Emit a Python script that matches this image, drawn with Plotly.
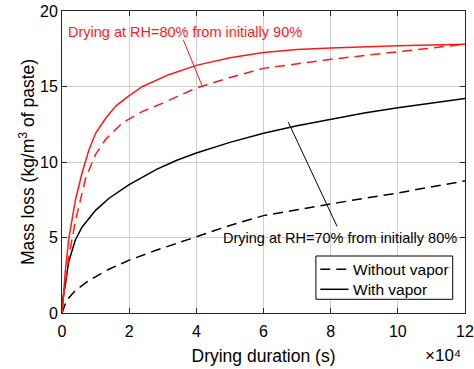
import plotly.graph_objects as go

# ---- data (x in units of 1e4 s) ----
red_solid_x = [0, 0.05, 0.1, 0.2, 0.4, 0.6, 0.8, 1.0, 1.3, 1.6, 2.0, 2.4, 3.2, 4, 5, 6, 7, 8, 9, 10, 11, 12]
red_solid_y = [0, 1.6, 2.8, 4.9, 7.5, 9.3, 10.8, 11.9, 12.9, 13.7, 14.4, 15.0, 15.8, 16.4, 16.9, 17.25, 17.45, 17.55, 17.65, 17.7, 17.75, 17.8]

red_dash_x = [0, 0.05, 0.2, 0.4, 0.7, 1.0, 1.3, 1.8, 2.4, 3.0, 4, 5, 6, 7, 8, 9, 10, 11, 12]
red_dash_y = [0, 1.2, 3.7, 6.1, 8.9, 10.5, 11.5, 12.6, 13.35, 13.9, 14.9, 15.6, 16.2, 16.5, 16.8, 17.05, 17.3, 17.55, 17.8]

blk_solid_x = [0, 0.03, 0.1, 0.2, 0.4, 0.6, 1.0, 1.4, 2.0, 2.8, 3.4, 4, 5, 6, 7, 8, 9, 10, 11, 12]
blk_solid_y = [0, 1.0, 1.9, 3.4, 4.85, 5.7, 6.8, 7.6, 8.5, 9.5, 10.1, 10.6, 11.3, 11.9, 12.4, 12.85, 13.25, 13.6, 13.9, 14.2]

blk_dash_x = [0, 0.14, 0.4, 0.8, 1.4, 2.0, 2.8, 3.4, 4, 5, 6, 7, 8, 9, 10, 11, 12]
blk_dash_y = [0, 0.85, 1.5, 2.15, 2.9, 3.5, 4.15, 4.6, 5.05, 5.8, 6.45, 6.85, 7.25, 7.6, 7.95, 8.35, 8.75]

x_ticks = [0, 2, 4, 6, 8, 10, 12]
y_ticks = [0, 5, 10, 15, 20]

legend_names = ["Without vapor", "With vapor"]

red_label = "Drying at RH=80% from initially 90%"
blk_label = "Drying at RH=70% from initially 80%"
red_label_pos = (0.12, 18.6)
blk_label_pos = (4.72, 5.0)
red_leader = ((3.61, 18.1), (4.18, 15.0))
blk_leader = ((6.74, 12.63), (8.19, 5.74))

RED = "#ff1a1a"
FONT = "Liberation Sans, Arial, sans-serif"
DASH = "10px,6px"

fig = go.Figure()
fig.add_trace(go.Scatter(x=blk_dash_x, y=blk_dash_y, mode="lines", name=legend_names[0],
                         line=dict(color="black", width=1.5, dash=DASH)))
fig.add_trace(go.Scatter(x=blk_solid_x, y=blk_solid_y, mode="lines", name=legend_names[1],
                         line=dict(color="black", width=1.5)))
fig.add_trace(go.Scatter(x=red_dash_x, y=red_dash_y, mode="lines",
                         line=dict(color=RED, width=1.5, dash=DASH)))
fig.add_trace(go.Scatter(x=red_solid_x, y=red_solid_y, mode="lines",
                         line=dict(color=RED, width=1.5)))

for (p0, p1), col in [(red_leader, RED), (blk_leader, "black")]:
    fig.add_shape(type="line", xref="x", yref="y", x0=p0[0], y0=p0[1], x1=p1[0], y1=p1[1],
                  line=dict(color=col, width=1))

fig.add_annotation(x=red_label_pos[0], y=red_label_pos[1], xref="x", yref="y", text=red_label,
                   showarrow=False, xanchor="left", yanchor="middle",
                   font=dict(family=FONT, size=14.5, color=RED))
fig.add_annotation(x=blk_label_pos[0], y=blk_label_pos[1], xref="x", yref="y", text=blk_label,
                   showarrow=False, xanchor="left", yanchor="middle",
                   font=dict(family=FONT, size=14.5, color="black"))
fig.add_annotation(x=0.994, y=-0.18, xref="paper", yref="paper", text="×10⁴",
                   showarrow=False, xanchor="right", yanchor="bottom",
                   font=dict(family=FONT, size=17, color="black"))

# ---- legend box (drawn in paper coordinates) ----
fig.add_shape(type="rect", xref="paper", yref="paper", x0=0.630, x1=0.9695, y0=0.0454, y1=0.1887,
              line=dict(color="black", width=1), fillcolor="white")
leg_rows = [0.1447, 0.0785]
leg_dash = [DASH, "solid"]
for yy, dsh, nm in zip(leg_rows, leg_dash, legend_names):
    fig.add_shape(type="line", xref="paper", yref="paper", x0=0.641, x1=0.711, y0=yy, y1=yy,
                  line=dict(color="black", width=1.5, dash=dsh))
    fig.add_annotation(x=0.718, y=yy, xref="paper", yref="paper", text=nm, showarrow=False,
                       xanchor="left", yanchor="middle",
                       font=dict(family=FONT, size=15.5, color="black"))

axis_common = dict(showline=True, linecolor="#262626", linewidth=1, mirror="ticks",
                   ticks="inside", ticklen=5, tickcolor="#262626", automargin=False,
                   showgrid=True, gridcolor="#cfcfcf", gridwidth=1, zeroline=False,
                   tickfont=dict(family=FONT, size=16, color="black"))

fig.update_xaxes(range=[0, 12], tickvals=x_ticks, ticktext=[str(v) for v in x_ticks],
                 ticklabelstandoff=4,
                 title=dict(text="Drying duration (s)", font=dict(family=FONT, size=17.5, color="black"),
                            standoff=10),
                 **axis_common)
fig.update_yaxes(range=[0, 20], tickvals=y_ticks, ticktext=[str(v) for v in y_ticks],
                 title=dict(text="Mass loss (kg/m<sup>3</sup> of paste)",
                            font=dict(family=FONT, size=17.5, color="black"), standoff=0),
                 **axis_common)

fig.update_layout(
    width=474, height=369, autosize=False,
    margin=dict(l=62, r=9, t=11, b=56, autoexpand=False),
    paper_bgcolor="white", plot_bgcolor="white",
    showlegend=False,
)

fig.write_html("out.html", config={"displayModeBar": False},
               post_script="document.body.style.margin='0px';document.body.style.overflow='hidden';")
